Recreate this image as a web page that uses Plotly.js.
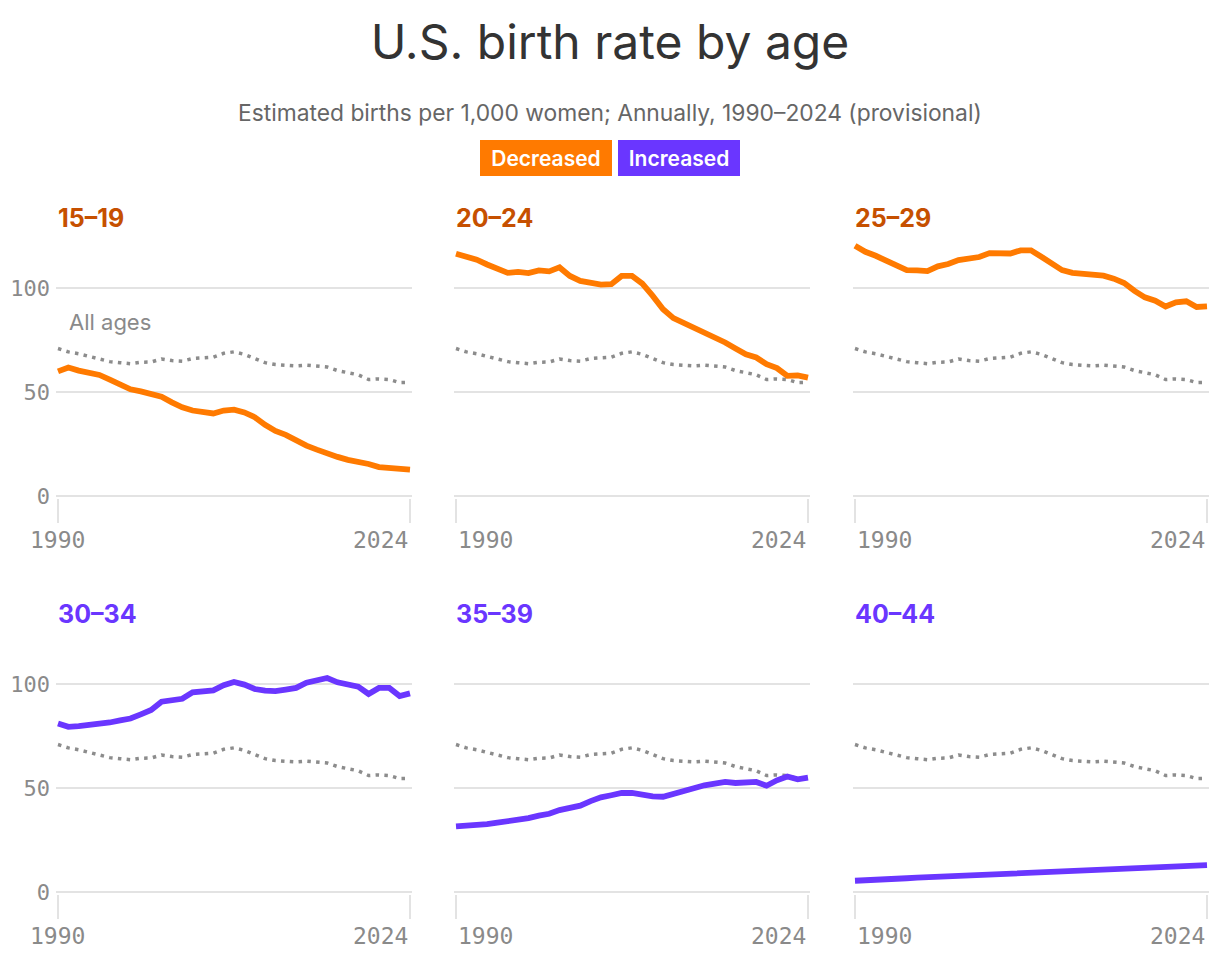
<!DOCTYPE html>
<html>
<head>
<meta charset="utf-8">
<script src="https://cdn.plot.ly/plotly-3.0.1.min.js"></script>
<style>
body{margin:0;background:#fff}
#chart{width:1220px;height:968px}
</style>
</head>
<body>
<div id="chart"></div>
<script>
// U.S. birth rate by age, births per 1,000 women, 1990-2024

var years = [1990,1991,1992,1993,1994,1995,1996,1997,1998,1999,
             2000,2001,2002,2003,2004,2005,2006,2007,2008,2009,
             2010,2011,2012,2013,2014,2015,2016,2017,2018,2019,
             2020,2021,2022,2023,2024]

// general fertility rate, the dotted "All ages" line
var allAges = [70.9,69.3,68.4,67.0,65.9,64.6,64.1,63.6,64.3,64.4,
               65.9,65.1,64.8,66.1,66.4,66.7,68.6,69.3,68.1,66.2,
               64.1,63.2,63.0,62.5,62.9,62.5,62.0,60.3,59.1,58.3,
               56.0,56.3,56.0,54.5,54.6]

var age15_19 = [59.9,61.8,60.3,59.0,58.2,56.0,53.5,51.3,50.3,48.8,
                47.7,45.0,42.6,41.1,40.5,39.7,41.1,41.5,40.2,37.9,
                34.2,31.3,29.4,26.5,24.2,22.3,20.3,18.8,17.4,16.7,
                15.4,13.9,13.6,13.1,12.7]

var age20_24 = [116.5,115.2,113.6,111.3,109.1,107.3,107.7,107.2,108.5,108.0,
                109.9,105.8,103.4,102.4,101.6,101.8,105.8,105.8,102.1,96.2,
                89.8,85.5,83.2,81.0,79.1,76.8,73.8,70.9,68.1,66.6,
                63.4,61.5,57.8,58.0,56.9]

var age25_29 = [120.3,117.4,115.5,113.1,110.7,108.6,108.5,108.1,110.4,111.5,
                113.4,113.9,114.9,116.8,116.6,116.6,118.1,118.1,115.0,111.7,
                108.6,107.3,106.7,105.8,105.9,104.5,102.4,98.6,95.5,93.9,
                91.1,93.1,93.6,90.9,91.2]

var age30_34 = [81.0,79.4,79.7,80.1,80.5,81.5,82.5,83.4,85.4,87.5,
                91.5,92.1,92.9,96.0,96.5,96.9,99.4,101.0,99.7,97.6,
                96.8,96.6,97.3,98.1,100.6,101.4,102.9,100.8,100.0,98.7,
                95.2,98.1,98.1,94.2,95.5]

var age35_39 = [31.5,31.7,32.2,32.6,33.3,33.9,34.7,35.5,36.7,37.6,
                39.4,40.4,41.5,43.7,45.5,46.5,47.6,47.7,46.8,46.0,
                45.8,47.3,48.6,49.7,51.3,52.1,52.9,52.4,52.7,52.9,
                51.1,53.7,55.5,54.2,55.0]

var age40_44 = [5.4,5.5,5.8,6.0,6.3,6.6,6.9,7.1,7.3,7.5,
                8.0,8.1,8.3,8.6,8.9,9.2,9.4,9.6,9.8,10.0,
                10.2,10.3,10.4,10.5,10.6,11.0,11.4,11.6,11.8,12.0,
                11.8,12.1,12.5,12.5,12.9]

var groups = ['15–19','20–24','25–29','30–34','35–39','40–44']
var groupRates = [age15_19,age20_24,age25_29,age30_34,age35_39,age40_44]
var groupTrend = ['Decreased','Decreased','Decreased','Increased','Increased','Increased']

var yTicks = [0,50,100]
var xTicks = [1990,2024]

// look
var W=1220, H=968
var lineCol = {Decreased:'#ff7a00', Increased:'#6a36ff'}
var titleCol = {Decreased:'#c65000', Increased:'#6a36ff'}
var gridCol = '#e3e3e3'
var grayTxt = '#8a8a8a'
var monoFont = 'DejaVu Sans Mono, Liberation Mono, monospace'
var sansFont = 'Inter, Roboto, Lato, sans-serif'

var colLeft = [58,456,855]   // px of 1990 in each column
var colWidth = 352            // px from 1990 to 2024
var rowZero = [496,892]       // px of y=0 in each row
var unitPx = 2.08             // px per birth / 1,000
var yRange = [-1,125]
var xPad = 0.2

var data=[]
var layout={
  width:W, height:H,
  margin:{l:0,r:0,t:0,b:0},
  paper_bgcolor:'#fff', plot_bgcolor:'#fff',
  showlegend:false,
  title:{
    text:'U.S. birth rate by age',
    font:{family:sansFont,size:48,color:'#333'},
    x:0.5, xanchor:'center',
    y:1-42/H, yanchor:'middle'
  },
  annotations:[],
  shapes:[]
}

var pxPerYear = colWidth/(years[years.length-1]-years[0])

groups.forEach(function(g,i){
  var row=Math.floor(i/3), col=i%3
  var n = i==0 ? '' : String(i+1)
  var xa='x'+n, ya='y'+n
  var trend = groupTrend[i]

  // dotted all-ages line first so the group line sits on top
  data.push({
    x:years, y:allAges, xaxis:xa, yaxis:ya,
    mode:'lines', type:'scatter', hoverinfo:'skip',
    line:{color:'#8c8c8c',width:3.5,dash:'3.5px,5.3px'}
  })
  data.push({
    x:years, y:groupRates[i], xaxis:xa, yaxis:ya,
    mode:'lines', type:'scatter', name:g,
    line:{color:lineCol[trend],width:5.8}
  })

  var x0 = colLeft[col]-xPad*pxPerYear
  var x1 = colLeft[col]+colWidth+xPad*pxPerYear
  var yBot = rowZero[row]-yRange[0]*unitPx
  var yTop = rowZero[row]-yRange[1]*unitPx

  layout['xaxis'+n]={
    domain:[x0/W,x1/W], anchor:ya,
    range:[years[0]-xPad, years[years.length-1]+xPad],
    tickvals:xTicks, showticklabels:false,
    ticks:'outside', ticklen:24, tickwidth:2, tickcolor:gridCol,
    showgrid:false, zeroline:false, showline:false, fixedrange:true
  }
  layout['yaxis'+n]={
    domain:[1-yBot/H,1-yTop/H], anchor:xa,
    range:yRange,
    tickvals:yTicks, ticktext:yTicks.map(String),
    showticklabels: col==0,
    tickfont:{family:monoFont,size:22,color:grayTxt},
    ticklabelstandoff:5,
    showgrid:true, gridcolor:gridCol, gridwidth:2,
    zeroline:false, showline:false, ticks:'', fixedrange:true
  }

  // panel title
  layout.annotations.push({
    text:'<b>'+g+'</b>', xref:xa, yref:ya+' domain',
    x:years[0], y:1, xanchor:'left', yanchor:'middle', yshift:18, xshift:-2,
    showarrow:false,
    font:{family:sansFont,size:25,color:titleCol[trend]}
  })

  // first and last year labels under the long ticks
  layout.annotations.push({
    text:String(xTicks[0]), xref:xa, yref:ya+' domain',
    x:xTicks[0], y:0, xanchor: col==0 ? 'center' : 'left', yanchor:'top', yshift:-27,
    showarrow:false,
    font:{family:monoFont,size:23,color:grayTxt}
  })
  layout.annotations.push({
    text:String(xTicks[1]), xref:xa, yref:ya+' domain',
    x:xTicks[1], y:0, xanchor:'right', yanchor:'top', yshift:-27,
    showarrow:false,
    font:{family:monoFont,size:23,color:grayTxt}
  })
})

// label the dotted line once
layout.annotations.push({
  text:'All ages', xref:'x', yref:'y',
  x:1990.85, y:83.7, xanchor:'left', yanchor:'middle',
  showarrow:false,
  font:{family:sansFont,size:22,color:grayTxt}
})

// subtitle
layout.annotations.push({
  text:'Estimated births per 1,000 women; Annually, 1990–2024 (provisional)',
  xref:'paper', yref:'paper', x:0.5, y:1-112/H,
  xanchor:'center', yanchor:'middle', showarrow:false,
  font:{family:sansFont,size:22.8,color:'#666'}
})

// colour key badges
var badges=[['Decreased',546,120],['Increased',679,110]]
badges.forEach(function(b){
  layout.annotations.push({
    text:b[0], xref:'paper', yref:'paper', x:b[1]/W, y:1-158/H,
    xanchor:'center', yanchor:'middle', showarrow:false,
    width:b[2], height:24, borderpad:5,
    bgcolor:lineCol[b[0]], bordercolor:lineCol[b[0]], borderwidth:1,
    font:{family:sansFont,size:21,color:'#fff',weight:600}
  })
})

Plotly.newPlot('chart', data, layout, {displayModeBar:false, staticPlot:true})
</script>
</body>
</html>
